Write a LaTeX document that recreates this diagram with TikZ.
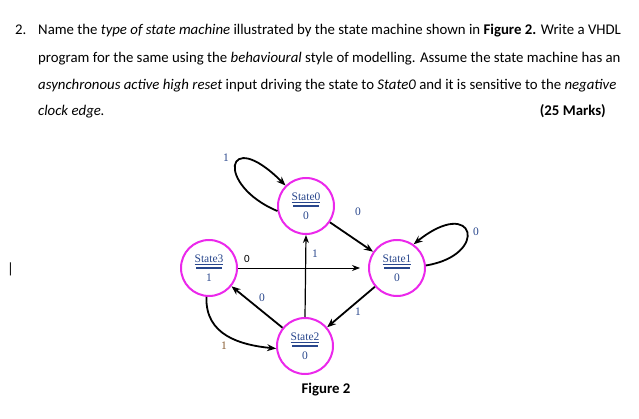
\documentclass[tikz,border=0pt]{standalone}
\usepackage{fontspec}
\setmainfont{Carlito}
\newfontfamily\tms{Liberation Serif}
\usetikzlibrary{arrows.meta}
\definecolor{lbl}{RGB}{40,70,140}
\definecolor{mg}{RGB}{235,40,235}
\newcommand{\stname}[1]{\underline{#1}\\[-5pt]\rule{26pt}{2.2pt}}
\begin{document}
\begin{tikzpicture}[x=1pt,y=-1pt,
  st/.style={circle,draw=mg,line width=2pt,minimum size=56pt,inner sep=0pt,font=\tms\fontsize{11.5}{12}\selectfont,text=lbl,align=center},
  ar/.style={line width=1.8pt,-{Stealth[length=9pt,width=7pt]}},
  tl/.style={text=lbl,font=\tms\fontsize{11.5}{12}\selectfont},
  q/.style={anchor=base west,inner sep=0pt,font=\fontsize{14.8}{17}\selectfont}]
\path[use as bounding box] (0,0) rectangle (639,419);
\node[q] (n2) at (15,35) {2.};
\node[q] (l1) at (38,35) {Name the \textit{type of state machine} illustrated by the state machine shown in \textbf{Figure 2.} Write a VHDL};
\node[q] (l2) at (38,63) {program for the same using the \textit{behavioural} style of modelling. Assume the state machine has an};
\node[q] (l3) at (38,90) {\textit{asynchronous active high reset} input driving the state to \textit{State0} and it is sensitive to the \textit{negative}};
\node[q] (l4) at (38,116) {\textit{clock edge.}};
\node[q,anchor=base east] (mk) at (606,116) {\textbf{(25 Marks)}};
\node[q] (bar) at (7,273) {|};
\node (s0) [st] at (306,206) {\stname{State0}\\0};
\node (s1) [st] at (397,268) {\stname{State1}\\0};
\node (s3) [st] at (209,268) {\stname{State3}\\1};
\node (s2) [st] at (305,346) {\stname{State2}\\0};
\draw[ar] (s0) -- (s1);
\draw[ar] (s1) -- (s2);
\draw[ar] (s2) -- (s3);
\draw[line width=1.2pt,-{Stealth[length=8pt,width=6pt]}] (s2.north) -- (s0.south);
\draw[line width=0.8pt,-{Stealth[length=8pt,width=6pt]}] (s3.east) -- ([xshift=-8pt]s1.west);
\draw[ar] (s0.190) .. controls (215,185) and (225,125) .. (s0.135);
\draw[ar] (s1.5) .. controls (490,255) and (475,195) .. (s1.55);
\draw[ar] (s3.265) .. controls (205,335) and (240,345) .. (s2.185);
\node[tl] (a) at (226,158) {1};
\node[tl] (b) at (358,212) {0};
\node[tl] (c) at (476,232) {0};
\node[font=\fontsize{11}{12}\selectfont] (d) at (247,259) {0};
\node[tl] (e) at (315,254) {1};
\node[tl] (f) at (262,298) {0};
\node[tl] (g) at (358,312) {1};
\node[tl,text=brown!70!black] (h) at (224,346) {1};
\node[q,anchor=center,font=\bfseries\fontsize{14.8}{17}\selectfont] (fig) at (326,390) {Figure 2};
\end{tikzpicture}
\end{document}
